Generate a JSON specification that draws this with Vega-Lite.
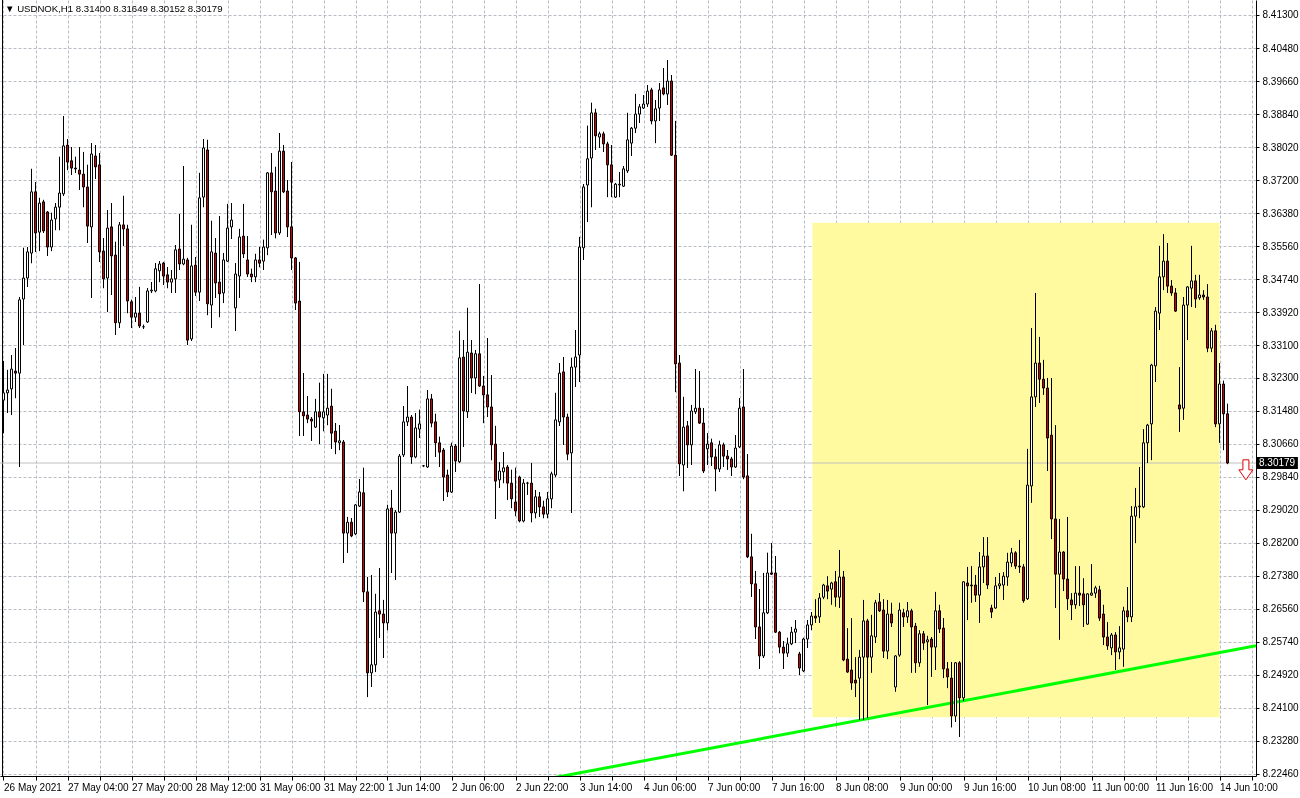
{
"$schema":"https://vega.github.io/schema/vega-lite/v6.json",
"width":1256,"height":776,
"autosize":{"type":"none"},
"padding":{"left":0,"top":0,"right":44,"bottom":22},
"background":"white",
"title":{"text":"▼ USDNOK,H1  8.31400 8.31649 8.30152 8.30179","anchor":"start","frame":"group","orient":"top","offset":-14,"dx":5,"font":"Liberation Sans","fontSize":9.6,"fontWeight":"normal","color":"black"},
"config":{"view":{"stroke":null},"scale":{"continuousPadding":0},
"axis":{"labelFont":"Liberation Sans","labelFontSize":10,"labelColor":"black","domainColor":"black","domainWidth":1,"tickColor":"black","gridColor":"#b8bcc4","gridDash":[3,2],"gridWidth":1}},
"datasets":{
"box":[{"x1":202.25,"x2":304,"top":8.3614,"bottom":8.2387}],
"trend":[{"i":120,"p":8.2204},{"i":313.125,"p":8.25642}],
"edge":[{"i":-0.25}],
"last":[{"i":313.375,"i2":323.6,"p":8.30179,"ptop":8.3033,"pbot":8.3003,"label":"8.30179"}],
"arrow":[{"i":310.6,"p":8.3001}],
"candles":[
{"i":0,"o":8.3174,"h":8.3271,"l":8.3092,"c":8.3192},
{"i":1,"o":8.3192,"h":8.3249,"l":8.3142,"c":8.3199},
{"i":2,"o":8.3202,"h":8.3286,"l":8.3137,"c":8.3251},
{"i":3,"o":8.3246,"h":8.3303,"l":8.3179,"c":8.3241},
{"i":4,"o":8.3241,"h":8.3430,"l":8.3008,"c":8.3423},
{"i":5,"o":8.3425,"h":8.3552,"l":8.3311,"c":8.3477},
{"i":6,"o":8.3477,"h":8.3554,"l":8.3455,"c":8.3542},
{"i":7,"o":8.3539,"h":8.3748,"l":8.3514,"c":8.3691},
{"i":8,"o":8.3691,"h":8.3715,"l":8.3542,"c":8.3589},
{"i":9,"o":8.3591,"h":8.3676,"l":8.3544,"c":8.3663},
{"i":10,"o":8.3666,"h":8.3671,"l":8.3589,"c":8.3594},
{"i":11,"o":8.3641,"h":8.3643,"l":8.3532,"c":8.3554},
{"i":12,"o":8.3554,"h":8.3639,"l":8.3544,"c":8.3621},
{"i":13,"o":8.3624,"h":8.3663,"l":8.3596,"c":8.3653},
{"i":14,"o":8.3653,"h":8.3778,"l":8.3596,"c":8.3688},
{"i":15,"o":8.3686,"h":8.3879,"l":8.3681,"c":8.3805},
{"i":16,"o":8.3807,"h":8.3822,"l":8.3745,"c":8.3765},
{"i":17,"o":8.3768,"h":8.3802,"l":8.3733,"c":8.3750},
{"i":18,"o":8.3750,"h":8.3778,"l":8.3738,"c":8.3748},
{"i":19,"o":8.3745,"h":8.3802,"l":8.3696,"c":8.3735},
{"i":20,"o":8.3735,"h":8.3790,"l":8.3653,"c":8.3703},
{"i":21,"o":8.3703,"h":8.3758,"l":8.3564,"c":8.3606},
{"i":22,"o":8.3604,"h":8.3812,"l":8.3428,"c":8.3785},
{"i":23,"o":8.3780,"h":8.3807,"l":8.3723,"c":8.3753},
{"i":24,"o":8.3758,"h":8.3787,"l":8.3517,"c":8.3542},
{"i":25,"o":8.3544,"h":8.3576,"l":8.3452,"c":8.3475},
{"i":26,"o":8.3477,"h":8.3646,"l":8.3393,"c":8.3601},
{"i":27,"o":8.3604,"h":8.3663,"l":8.3435,"c":8.3532},
{"i":28,"o":8.3534,"h":8.3567,"l":8.3336,"c":8.3366},
{"i":29,"o":8.3366,"h":8.3616,"l":8.3353,"c":8.3609},
{"i":30,"o":8.3609,"h":8.3681,"l":8.3557,"c":8.3599},
{"i":31,"o":8.3599,"h":8.3609,"l":8.3390,"c":8.3420},
{"i":32,"o":8.3418,"h":8.3423,"l":8.3353,"c":8.3380},
{"i":33,"o":8.3380,"h":8.3430,"l":8.3368,"c":8.3390},
{"i":34,"o":8.3390,"h":8.3455,"l":8.3353,"c":8.3358},
{"i":35,"o":8.3356,"h":8.3361,"l":8.3351,"c":8.3356},
{"i":36,"o":8.3368,"h":8.3452,"l":8.3366,"c":8.3445},
{"i":37,"o":8.3445,"h":8.3467,"l":8.3440,"c":8.3447},
{"i":38,"o":8.3445,"h":8.3514,"l":8.3442,"c":8.3500},
{"i":39,"o":8.3495,"h":8.3519,"l":8.3467,"c":8.3512},
{"i":40,"o":8.3514,"h":8.3517,"l":8.3460,"c":8.3482},
{"i":41,"o":8.3485,"h":8.3504,"l":8.3452,"c":8.3467},
{"i":42,"o":8.3467,"h":8.3497,"l":8.3440,"c":8.3475},
{"i":43,"o":8.3475,"h":8.3559,"l":8.3440,"c":8.3547},
{"i":44,"o":8.3549,"h":8.3636,"l":8.3497,"c":8.3512},
{"i":45,"o":8.3512,"h":8.3755,"l":8.3509,"c":8.3524},
{"i":46,"o":8.3522,"h":8.3527,"l":8.3311,"c":8.3323},
{"i":47,"o":8.3326,"h":8.3609,"l":8.3321,"c":8.3507},
{"i":48,"o":8.3509,"h":8.3529,"l":8.3433,"c":8.3442},
{"i":49,"o":8.3442,"h":8.3738,"l":8.3420,"c":8.3676},
{"i":50,"o":8.3678,"h":8.3822,"l":8.3653,"c":8.3800},
{"i":51,"o":8.3795,"h":8.3820,"l":8.3385,"c":8.3413},
{"i":52,"o":8.3410,"h":8.3619,"l":8.3353,"c":8.3542},
{"i":53,"o":8.3539,"h":8.3576,"l":8.3428,"c":8.3465},
{"i":54,"o":8.3467,"h":8.3631,"l":8.3380,"c":8.3438},
{"i":55,"o":8.3440,"h":8.3539,"l":8.3415,"c":8.3522},
{"i":56,"o":8.3519,"h":8.3661,"l":8.3517,"c":8.3601},
{"i":57,"o":8.3604,"h":8.3663,"l":8.3574,"c":8.3621},
{"i":58,"o":8.3403,"h":8.3514,"l":8.3346,"c":8.3487},
{"i":59,"o":8.3482,"h":8.3599,"l":8.3428,"c":8.3579},
{"i":60,"o":8.3581,"h":8.3661,"l":8.3527,"c":8.3537},
{"i":61,"o":8.3522,"h":8.3581,"l":8.3480,"c":8.3487},
{"i":62,"o":8.3487,"h":8.3500,"l":8.3467,"c":8.3480},
{"i":63,"o":8.3480,"h":8.3537,"l":8.3467,"c":8.3522},
{"i":64,"o":8.3522,"h":8.3554,"l":8.3504,"c":8.3514},
{"i":65,"o":8.3519,"h":8.3572,"l":8.3497,"c":8.3554},
{"i":66,"o":8.3552,"h":8.3740,"l":8.3534,"c":8.3738},
{"i":67,"o":8.3738,"h":8.3787,"l":8.3584,"c":8.3691},
{"i":68,"o":8.3693,"h":8.3753,"l":8.3576,"c":8.3589},
{"i":69,"o":8.3589,"h":8.3837,"l":8.3584,"c":8.3792},
{"i":70,"o":8.3792,"h":8.3807,"l":8.3688,"c":8.3691},
{"i":71,"o":8.3693,"h":8.3720,"l":8.3579,"c":8.3604},
{"i":72,"o":8.3604,"h":8.3765,"l":8.3497,"c":8.3527},
{"i":73,"o":8.3527,"h":8.3529,"l":8.3398,"c":8.3415},
{"i":74,"o":8.3420,"h":8.3517,"l":8.3085,"c":8.3145},
{"i":75,"o":8.3145,"h":8.3241,"l":8.3085,"c":8.3135},
{"i":76,"o":8.3137,"h":8.3184,"l":8.3117,"c":8.3127},
{"i":77,"o":8.3127,"h":8.3132,"l":8.3073,"c":8.3122},
{"i":78,"o":8.3107,"h":8.3177,"l":8.3105,"c":8.3145},
{"i":79,"o":8.3145,"h":8.3217,"l":8.3065,"c":8.3132},
{"i":80,"o":8.3130,"h":8.3239,"l":8.3097,"c":8.3145},
{"i":81,"o":8.3137,"h":8.3239,"l":8.3112,"c":8.3154},
{"i":82,"o":8.3159,"h":8.3202,"l":8.3053,"c":8.3092},
{"i":83,"o":8.3097,"h":8.3117,"l":8.3040,"c":8.3070},
{"i":84,"o":8.3068,"h":8.3112,"l":8.3050,"c":8.3073},
{"i":85,"o":8.3070,"h":8.3075,"l":8.2770,"c":8.2844},
{"i":86,"o":8.2844,"h":8.2884,"l":8.2795,"c":8.2871},
{"i":87,"o":8.2871,"h":8.2881,"l":8.2834,"c":8.2837},
{"i":88,"o":8.2842,"h":8.2916,"l":8.2839,"c":8.2914},
{"i":89,"o":8.2911,"h":8.2978,"l":8.2909,"c":8.2946},
{"i":90,"o":8.2944,"h":8.3006,"l":8.2673,"c":8.2698},
{"i":91,"o":8.2698,"h":8.2735,"l":8.2437,"c":8.2497},
{"i":92,"o":8.2497,"h":8.2740,"l":8.2462,"c":8.2517},
{"i":93,"o":8.2517,"h":8.2693,"l":8.2499,"c":8.2648},
{"i":94,"o":8.2651,"h":8.2757,"l":8.2584,"c":8.2643},
{"i":95,"o":8.2643,"h":8.2678,"l":8.2534,"c":8.2621},
{"i":96,"o":8.2621,"h":8.2914,"l":8.2603,"c":8.2904},
{"i":97,"o":8.2906,"h":8.2951,"l":8.2745,"c":8.2844},
{"i":98,"o":8.2844,"h":8.2901,"l":8.2728,"c":8.2896},
{"i":99,"o":8.2896,"h":8.3040,"l":8.2894,"c":8.3035},
{"i":100,"o":8.3038,"h":8.3159,"l":8.3033,"c":8.3120},
{"i":101,"o":8.3120,"h":8.3209,"l":8.3110,"c":8.3132},
{"i":102,"o":8.3132,"h":8.3137,"l":8.3016,"c":8.3033},
{"i":103,"o":8.3033,"h":8.3142,"l":8.3030,"c":8.3105},
{"i":104,"o":8.3102,"h":8.3150,"l":8.3080,"c":8.3115},
{"i":105,"o":8.3011,"h":8.3013,"l":8.3008,"c":8.3011},
{"i":106,"o":8.3008,"h":8.3199,"l":8.3006,"c":8.3177},
{"i":107,"o":8.3177,"h":8.3189,"l":8.3107,"c":8.3117},
{"i":108,"o":8.3120,"h":8.3140,"l":8.3033,"c":8.3068},
{"i":109,"o":8.3068,"h":8.3083,"l":8.3008,"c":8.3045},
{"i":110,"o":8.3050,"h":8.3055,"l":8.2924,"c":8.2983},
{"i":111,"o":8.2988,"h":8.3001,"l":8.2934,"c":8.2946},
{"i":112,"o":8.2946,"h":8.3068,"l":8.2944,"c":8.3060},
{"i":113,"o":8.3060,"h":8.3065,"l":8.2996,"c":8.3023},
{"i":114,"o":8.3021,"h":8.3346,"l":8.3018,"c":8.3279},
{"i":115,"o":8.3281,"h":8.3323,"l":8.3058,"c":8.3147},
{"i":116,"o":8.3145,"h":8.3403,"l":8.3130,"c":8.3293},
{"i":117,"o":8.3291,"h":8.3323,"l":8.3192,"c":8.3229},
{"i":118,"o":8.3229,"h":8.3298,"l":8.3189,"c":8.3289},
{"i":119,"o":8.3289,"h":8.3462,"l":8.3207,"c":8.3209},
{"i":120,"o":8.3209,"h":8.3234,"l":8.3117,"c":8.3187},
{"i":121,"o":8.3187,"h":8.3328,"l":8.3132,"c":8.3157},
{"i":122,"o":8.3157,"h":8.3236,"l":8.3025,"c":8.3063},
{"i":123,"o":8.3065,"h":8.3110,"l":8.2879,"c":8.2973},
{"i":124,"o":8.2976,"h":8.3020,"l":8.2956,"c":8.2998},
{"i":125,"o":8.2996,"h":8.3045,"l":8.2968,"c":8.3006},
{"i":126,"o":8.3008,"h":8.3013,"l":8.2926,"c":8.2968},
{"i":127,"o":8.2968,"h":8.3001,"l":8.2906,"c":8.2929},
{"i":128,"o":8.2921,"h":8.3006,"l":8.2886,"c":8.2899},
{"i":129,"o":8.2983,"h":8.2986,"l":8.2871,"c":8.2874},
{"i":130,"o":8.2874,"h":8.2978,"l":8.2871,"c":8.2968},
{"i":131,"o":8.2968,"h":8.2971,"l":8.2939,"c":8.2968},
{"i":132,"o":8.2968,"h":8.3018,"l":8.2871,"c":8.2894},
{"i":133,"o":8.2894,"h":8.2951,"l":8.2881,"c":8.2934},
{"i":134,"o":8.2934,"h":8.2946,"l":8.2884,"c":8.2909},
{"i":135,"o":8.2909,"h":8.2924,"l":8.2881,"c":8.2891},
{"i":136,"o":8.2891,"h":8.2946,"l":8.2881,"c":8.2929},
{"i":137,"o":8.2929,"h":8.2996,"l":8.2906,"c":8.2991},
{"i":138,"o":8.2988,"h":8.3192,"l":8.2983,"c":8.3125},
{"i":139,"o":8.3120,"h":8.3266,"l":8.3110,"c":8.3241},
{"i":140,"o":8.3244,"h":8.3281,"l":8.3063,"c":8.3132},
{"i":141,"o":8.3132,"h":8.3140,"l":8.3025,"c":8.3040},
{"i":142,"o":8.3043,"h":8.3279,"l":8.2894,"c":8.3256},
{"i":143,"o":8.3256,"h":8.3348,"l":8.3207,"c":8.3281},
{"i":144,"o":8.3286,"h":8.3579,"l":8.3219,"c":8.3554},
{"i":145,"o":8.3552,"h":8.3710,"l":8.3522,"c":8.3703},
{"i":146,"o":8.3708,"h":8.3855,"l":8.3616,"c":8.3773},
{"i":147,"o":8.3775,"h":8.3912,"l":8.3653,"c":8.3887},
{"i":148,"o":8.3887,"h":8.3897,"l":8.3795,"c":8.3830},
{"i":149,"o":8.3827,"h":8.3840,"l":8.3800,"c":8.3835},
{"i":150,"o":8.3835,"h":8.3840,"l":8.3790,"c":8.3810},
{"i":151,"o":8.3810,"h":8.3815,"l":8.3678,"c":8.3758},
{"i":152,"o":8.3758,"h":8.3807,"l":8.3678,"c":8.3715},
{"i":153,"o":8.3678,"h":8.3713,"l":8.3676,"c":8.3710},
{"i":154,"o":8.3708,"h":8.3740,"l":8.3678,"c":8.3710},
{"i":155,"o":8.3705,"h":8.3755,"l":8.3703,"c":8.3748},
{"i":156,"o":8.3743,"h":8.3887,"l":8.3738,"c":8.3820},
{"i":157,"o":8.3812,"h":8.3852,"l":8.3780,"c":8.3849},
{"i":158,"o":8.3849,"h":8.3934,"l":8.3837,"c":8.3884},
{"i":159,"o":8.3884,"h":8.3909,"l":8.3862,"c":8.3902},
{"i":160,"o":8.3899,"h":8.3931,"l":8.3897,"c":8.3909},
{"i":161,"o":8.3909,"h":8.3956,"l":8.3902,"c":8.3941},
{"i":162,"o":8.3944,"h":8.3949,"l":8.3859,"c":8.3867},
{"i":163,"o":8.3867,"h":8.3919,"l":8.3812,"c":8.3897},
{"i":164,"o":8.3899,"h":8.3961,"l":8.3867,"c":8.3944},
{"i":165,"o":8.3949,"h":8.3998,"l":8.3931,"c":8.3934},
{"i":166,"o":8.3934,"h":8.4018,"l":8.3907,"c":8.3966},
{"i":167,"o":8.3966,"h":8.3981,"l":8.3780,"c":8.3782},
{"i":168,"o":8.3782,"h":8.3867,"l":8.3194,"c":8.3264},
{"i":169,"o":8.3266,"h":8.3286,"l":8.2986,"c":8.3016},
{"i":170,"o":8.3013,"h":8.3182,"l":8.2948,"c":8.3107},
{"i":171,"o":8.3110,"h":8.3122,"l":8.3006,"c":8.3063},
{"i":172,"o":8.3063,"h":8.3162,"l":8.3013,"c":8.3147},
{"i":173,"o":8.3145,"h":8.3251,"l":8.3140,"c":8.3154},
{"i":174,"o":8.3154,"h":8.3246,"l":8.3115,"c":8.3117},
{"i":175,"o":8.3117,"h":8.3154,"l":8.2993,"c":8.2998},
{"i":176,"o":8.3053,"h":8.3092,"l":8.3013,"c":8.3065},
{"i":177,"o":8.3068,"h":8.3078,"l":8.3011,"c":8.3033},
{"i":178,"o":8.3033,"h":8.3053,"l":8.2948,"c":8.3003},
{"i":179,"o":8.3003,"h":8.3073,"l":8.2996,"c":8.3063},
{"i":180,"o":8.3063,"h":8.3068,"l":8.3008,"c":8.3035},
{"i":181,"o":8.3035,"h":8.3050,"l":8.3001,"c":8.3028},
{"i":182,"o":8.3028,"h":8.3033,"l":8.2986,"c":8.3008},
{"i":183,"o":8.3008,"h":8.3087,"l":8.3006,"c":8.3055},
{"i":184,"o":8.3058,"h":8.3179,"l":8.3055,"c":8.3154},
{"i":185,"o":8.3157,"h":8.3251,"l":8.2978,"c":8.2983},
{"i":186,"o":8.2986,"h":8.3040,"l":8.2782,"c":8.2785},
{"i":187,"o":8.2785,"h":8.2842,"l":8.2686,"c":8.2718},
{"i":188,"o":8.2718,"h":8.2750,"l":8.2581,"c":8.2611},
{"i":189,"o":8.2611,"h":8.2705,"l":8.2507,"c":8.2539},
{"i":190,"o":8.2539,"h":8.2745,"l":8.2534,"c":8.2646},
{"i":191,"o":8.2646,"h":8.2795,"l":8.2643,"c":8.2745},
{"i":192,"o":8.2745,"h":8.2819,"l":8.2740,"c":8.2742},
{"i":193,"o":8.2745,"h":8.2787,"l":8.2596,"c":8.2598},
{"i":194,"o":8.2598,"h":8.2601,"l":8.2546,"c":8.2561},
{"i":195,"o":8.2561,"h":8.2576,"l":8.2507,"c":8.2546},
{"i":196,"o":8.2546,"h":8.2584,"l":8.2537,"c":8.2569},
{"i":197,"o":8.2569,"h":8.2611,"l":8.2566,"c":8.2598},
{"i":198,"o":8.2598,"h":8.2628,"l":8.2571,"c":8.2606},
{"i":199,"o":8.2544,"h":8.2549,"l":8.2492,"c":8.2509},
{"i":200,"o":8.2502,"h":8.2584,"l":8.2499,"c":8.2581},
{"i":201,"o":8.2581,"h":8.2628,"l":8.2559,"c":8.2616},
{"i":202,"o":8.2616,"h":8.2648,"l":8.2603,"c":8.2638},
{"i":203,"o":8.2638,"h":8.2680,"l":8.2621,"c":8.2633},
{"i":204,"o":8.2636,"h":8.2695,"l":8.2621,"c":8.2683},
{"i":205,"o":8.2685,"h":8.2718,"l":8.2680,"c":8.2715},
{"i":206,"o":8.2713,"h":8.2737,"l":8.2680,"c":8.2700},
{"i":207,"o":8.2705,"h":8.2723,"l":8.2666,"c":8.2720},
{"i":208,"o":8.2723,"h":8.2750,"l":8.2661,"c":8.2685},
{"i":209,"o":8.2685,"h":8.2802,"l":8.2658,"c":8.2735},
{"i":210,"o":8.2735,"h":8.2750,"l":8.2526,"c":8.2529},
{"i":211,"o":8.2531,"h":8.2608,"l":8.2497,"c":8.2499},
{"i":212,"o":8.2504,"h":8.2633,"l":8.2455,"c":8.2472},
{"i":213,"o":8.2479,"h":8.2536,"l":8.2437,"c":8.2472},
{"i":214,"o":8.2484,"h":8.2554,"l":8.2380,"c":8.2536},
{"i":215,"o":8.2536,"h":8.2678,"l":8.2380,"c":8.2626},
{"i":216,"o":8.2626,"h":8.2631,"l":8.2385,"c":8.2536},
{"i":217,"o":8.2536,"h":8.2641,"l":8.2497,"c":8.2589},
{"i":218,"o":8.2586,"h":8.2678,"l":8.2571,"c":8.2671},
{"i":219,"o":8.2673,"h":8.2695,"l":8.2648,"c":8.2651},
{"i":220,"o":8.2653,"h":8.2680,"l":8.2534,"c":8.2551},
{"i":221,"o":8.2551,"h":8.2678,"l":8.2531,"c":8.2643},
{"i":222,"o":8.2643,"h":8.2671,"l":8.2611,"c":8.2621},
{"i":223,"o":8.2462,"h":8.2541,"l":8.2450,"c":8.2539},
{"i":224,"o":8.2541,"h":8.2671,"l":8.2537,"c":8.2653},
{"i":225,"o":8.2646,"h":8.2656,"l":8.2611,"c":8.2636},
{"i":226,"o":8.2636,"h":8.2673,"l":8.2621,"c":8.2651},
{"i":227,"o":8.2651,"h":8.2656,"l":8.2497,"c":8.2611},
{"i":228,"o":8.2613,"h":8.2621,"l":8.2497,"c":8.2522},
{"i":229,"o":8.2522,"h":8.2603,"l":8.2512,"c":8.2594},
{"i":230,"o":8.2594,"h":8.2601,"l":8.2554,"c":8.2571},
{"i":231,"o":8.2574,"h":8.2589,"l":8.2417,"c":8.2579},
{"i":232,"o":8.2581,"h":8.2586,"l":8.2487,"c":8.2561},
{"i":233,"o":8.2561,"h":8.2698,"l":8.2504,"c":8.2651},
{"i":234,"o":8.2651,"h":8.2666,"l":8.2596,"c":8.2606},
{"i":235,"o":8.2608,"h":8.2633,"l":8.2484,"c":8.2507},
{"i":236,"o":8.2507,"h":8.2524,"l":8.2459,"c":8.2487},
{"i":237,"o":8.2484,"h":8.2524,"l":8.2362,"c":8.2390},
{"i":238,"o":8.2390,"h":8.2524,"l":8.2375,"c":8.2522},
{"i":239,"o":8.2522,"h":8.2526,"l":8.2338,"c":8.2435},
{"i":240,"o":8.2435,"h":8.2725,"l":8.2427,"c":8.2723},
{"i":241,"o":8.2720,"h":8.2760,"l":8.2628,"c":8.2713},
{"i":242,"o":8.2715,"h":8.2762,"l":8.2671,"c":8.2713},
{"i":243,"o":8.2715,"h":8.2740,"l":8.2673,"c":8.2690},
{"i":244,"o":8.2690,"h":8.2797,"l":8.2621,"c":8.2760},
{"i":245,"o":8.2760,"h":8.2834,"l":8.2720,"c":8.2787},
{"i":246,"o":8.2787,"h":8.2834,"l":8.2705,"c":8.2715},
{"i":247,"o":8.2658,"h":8.2666,"l":8.2633,"c":8.2648},
{"i":248,"o":8.2658,"h":8.2735,"l":8.2656,"c":8.2713},
{"i":249,"o":8.2713,"h":8.2745,"l":8.2705,"c":8.2718},
{"i":250,"o":8.2715,"h":8.2747,"l":8.2678,"c":8.2737},
{"i":251,"o":8.2735,"h":8.2795,"l":8.2713,"c":8.2772},
{"i":252,"o":8.2770,"h":8.2807,"l":8.2760,"c":8.2795},
{"i":253,"o":8.2795,"h":8.2799,"l":8.2755,"c":8.2762},
{"i":254,"o":8.2762,"h":8.2827,"l":8.2745,"c":8.2760},
{"i":255,"o":8.2760,"h":8.2767,"l":8.2671,"c":8.2676},
{"i":256,"o":8.2681,"h":8.3053,"l":8.2678,"c":8.2963},
{"i":257,"o":8.2961,"h":8.3353,"l":8.2919,"c":8.3182},
{"i":258,"o":8.3182,"h":8.3440,"l":8.3157,"c":8.3266},
{"i":259,"o":8.3266,"h":8.3331,"l":8.3167,"c":8.3226},
{"i":260,"o":8.3226,"h":8.3274,"l":8.3187,"c":8.3204},
{"i":261,"o":8.3204,"h":8.3229,"l":8.2998,"c":8.3080},
{"i":262,"o":8.3087,"h":8.3229,"l":8.2829,"c":8.2879},
{"i":263,"o":8.2879,"h":8.3112,"l":8.2658,"c":8.2742},
{"i":264,"o":8.2742,"h":8.2879,"l":8.2579,"c":8.2797},
{"i":265,"o":8.2797,"h":8.2799,"l":8.2700,"c":8.2730},
{"i":266,"o":8.2730,"h":8.2884,"l":8.2653,"c":8.2681},
{"i":267,"o":8.2678,"h":8.2695,"l":8.2628,"c":8.2666},
{"i":268,"o":8.2666,"h":8.2762,"l":8.2656,"c":8.2695},
{"i":269,"o":8.2695,"h":8.2762,"l":8.2663,"c":8.2690},
{"i":270,"o":8.2693,"h":8.2732,"l":8.2611,"c":8.2666},
{"i":271,"o":8.2618,"h":8.2695,"l":8.2616,"c":8.2693},
{"i":272,"o":8.2690,"h":8.2767,"l":8.2688,"c":8.2695},
{"i":273,"o":8.2695,"h":8.2713,"l":8.2683,"c":8.2708},
{"i":274,"o":8.2703,"h":8.2713,"l":8.2626,"c":8.2633},
{"i":275,"o":8.2643,"h":8.2666,"l":8.2566,"c":8.2586},
{"i":276,"o":8.2586,"h":8.2623,"l":8.2554,"c":8.2564},
{"i":277,"o":8.2559,"h":8.2596,"l":8.2541,"c":8.2591},
{"i":278,"o":8.2591,"h":8.2598,"l":8.2504,"c":8.2549},
{"i":279,"o":8.2549,"h":8.2613,"l":8.2531,"c":8.2559},
{"i":280,"o":8.2556,"h":8.2661,"l":8.2512,"c":8.2651},
{"i":281,"o":8.2651,"h":8.2710,"l":8.2623,"c":8.2636},
{"i":282,"o":8.2636,"h":8.2911,"l":8.2623,"c":8.2886},
{"i":283,"o":8.2886,"h":8.2956,"l":8.2819,"c":8.2909},
{"i":284,"o":8.2909,"h":8.3008,"l":8.2881,"c":8.2911},
{"i":285,"o":8.2909,"h":8.3102,"l":8.2906,"c":8.3068},
{"i":286,"o":8.3068,"h":8.3115,"l":8.3018,"c":8.3112},
{"i":287,"o":8.3115,"h":8.3264,"l":8.3025,"c":8.3261},
{"i":288,"o":8.3259,"h":8.3405,"l":8.3219,"c":8.3395},
{"i":289,"o":8.3390,"h":8.3557,"l":8.3348,"c":8.3480},
{"i":290,"o":8.3480,"h":8.3586,"l":8.3447,"c":8.3519},
{"i":291,"o":8.3519,"h":8.3564,"l":8.3440,"c":8.3457},
{"i":292,"o":8.3457,"h":8.3472,"l":8.3433,"c":8.3440},
{"i":293,"o":8.3440,"h":8.3452,"l":8.3393,"c":8.3395},
{"i":294,"o":8.3162,"h":8.3256,"l":8.3095,"c":8.3152},
{"i":295,"o":8.3154,"h":8.3430,"l":8.3125,"c":8.3410},
{"i":296,"o":8.3410,"h":8.3457,"l":8.3323,"c":8.3455},
{"i":297,"o":8.3452,"h":8.3557,"l":8.3405,"c":8.3470},
{"i":298,"o":8.3470,"h":8.3485,"l":8.3403,"c":8.3425},
{"i":299,"o":8.3428,"h":8.3485,"l":8.3423,"c":8.3435},
{"i":300,"o":8.3435,"h":8.3447,"l":8.3423,"c":8.3430},
{"i":301,"o":8.3430,"h":8.3462,"l":8.3293,"c":8.3303},
{"i":302,"o":8.3303,"h":8.3353,"l":8.3293,"c":8.3346},
{"i":303,"o":8.3346,"h":8.3361,"l":8.3107,"c":8.3115},
{"i":304,"o":8.3115,"h":8.3266,"l":8.3068,"c":8.3214},
{"i":305,"o":8.3214,"h":8.3222,"l":8.3050,"c":8.3140},
{"i":306,"o":8.3140,"h":8.31649,"l":8.30152,"c":8.30179}
]},
"layer":[
{"data":{"name":"candles"},
 "mark":{"type":"rule","color":"black","strokeWidth":1},
 "encoding":{
  "x":{"field":"i","type":"quantitative","title":null,"scale":{"domain":[-0.875,313.125],"nice":false,"zero":false,"padding":0},
   "axis":{"orient":"bottom","tickCount":100,"values":[0,8,16,24,32,40,48,56,64,72,80,88,96,104,112,120,128,136,144,152,160,168,176,184,192,200,208,216,224,232,240,248,256,264,272,280,288,296,304,312],
   "labelExpr":"datum.value % 16 == 0 ? ['26 May 2021','27 May 04:00','27 May 20:00','28 May 12:00','31 May 06:00','31 May 22:00','1 Jun 14:00','2 Jun 06:00','2 Jun 22:00','3 Jun 14:00','4 Jun 06:00','7 Jun 00:00','7 Jun 16:00','8 Jun 08:00','9 Jun 00:00','9 Jun 16:00','10 Jun 08:00','11 Jun 00:00','11 Jun 16:00','14 Jun 10:00'][datum.value/16] : ''",
   "labelAlign":"left","labelBaseline":"top","labelPadding":2,"tickSize":4,"labelFlush":false,"labelOverlap":false,"grid":true}},
  "y":{"field":"l","type":"quantitative","title":null,"scale":{"domain":[8.2241,8.41672],"nice":false,"zero":false,"padding":0},
   "axis":{"orient":"right","tickCount":100,"values":[8.2246,8.2328,8.2410,8.2492,8.2574,8.2656,8.2738,8.2820,8.2902,8.2984,8.3066,8.3148,8.3230,8.3310,8.3392,8.3474,8.3556,8.3638,8.3720,8.3802,8.3884,8.3966,8.4048,8.4130],
   "format":".5f","labelAlign":"left","labelBaseline":"middle","labelPadding":3,"tickSize":3,"labelFlush":false,"labelOverlap":false,"grid":true}},
  "y2":{"field":"h"}}},
{"data":{"name":"box"},
 "mark":{"type":"rect","fill":"#fff9a0","blend":"multiply","clip":true},
 "encoding":{
  "x":{"field":"x1","type":"quantitative","title":null},
  "x2":{"field":"x2"},
  "y":{"field":"top","type":"quantitative","title":null},
  "y2":{"field":"bottom"}}},
{"data":{"name":"edge"},
 "mark":{"type":"rule","color":"black","strokeWidth":1},
 "encoding":{"x":{"field":"i","type":"quantitative","title":null}}},
{"data":{"name":"last"},
 "mark":{"type":"rule","color":"#c0c0c0","strokeWidth":1},
 "encoding":{"y":{"field":"p","type":"quantitative","title":null}}},
{"data":{"name":"trend"},
 "mark":{"type":"line","color":"#00ff00","strokeWidth":3,"clip":true},
 "encoding":{
  "x":{"field":"i","type":"quantitative","title":null},
  "y":{"field":"p","type":"quantitative","title":null}}},
{"data":{"name":"candles"},
 "mark":{"type":"rule","color":"black","strokeWidth":1},
 "encoding":{
  "x":{"field":"i","type":"quantitative","title":null},
  "y":{"field":"l","type":"quantitative","title":null},
  "y2":{"field":"h"}}},
{"data":{"name":"candles"},
 "mark":{"type":"bar","size":2,"stroke":"black","strokeWidth":1},
 "encoding":{
  "x":{"field":"i","type":"quantitative","title":null},
  "y":{"field":"o","type":"quantitative","title":null},
  "y2":{"field":"c"},
  "fill":{"condition":{"test":"datum.c < datum.o","value":"#cc0000"},"value":"white"}}},
{"data":{"name":"arrow"},
 "mark":{"type":"point","shape":"M -0.3 -1 L 0.3 -1 L 0.3 0 L 0.7 0 L 0 1 L -0.7 0 L -0.3 0 Z","size":400,"filled":true,"fill":"white","stroke":"#e00000","strokeWidth":1,"opacity":1},
 "encoding":{
  "x":{"field":"i","type":"quantitative","title":null},
  "y":{"field":"p","type":"quantitative","title":null}}},
{"data":{"name":"last"},
 "mark":{"type":"rect","fill":"black"},
 "encoding":{
  "x":{"field":"i","type":"quantitative","title":null},
  "x2":{"field":"i2"},
  "y":{"field":"ptop","type":"quantitative","title":null},
  "y2":{"field":"pbot"}}},
{"data":{"name":"last"},
 "mark":{"type":"text","color":"white","font":"Liberation Sans","fontSize":10,"align":"left","baseline":"middle","dx":2},
 "encoding":{
  "x":{"field":"i","type":"quantitative","title":null},
  "y":{"field":"p","type":"quantitative","title":null},
  "text":{"field":"label"}}}
]
}
